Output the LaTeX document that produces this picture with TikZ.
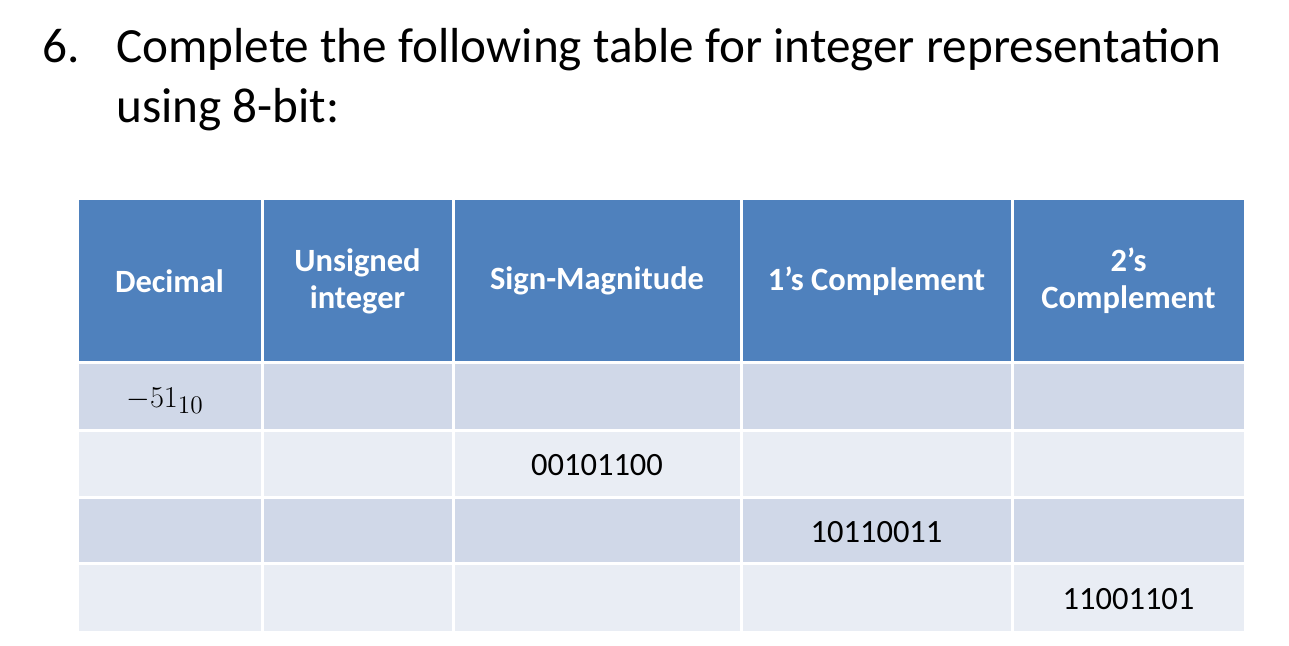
\documentclass[tikz,border=0pt]{standalone}
\usepackage{fontspec}
\setmainfont{Carlito}
\begin{document}
\begin{tikzpicture}[x=0.02cm,y=-0.02cm,
  hdr/.style={fill=hblue,draw=white,line width=0.06cm},
  odd/.style={fill=rodd,draw=white,line width=0.06cm},
  even/.style={fill=reven,draw=white,line width=0.06cm},
  htxt/.style={font=\fontsize{18.5}{21}\selectfont\bfseries,text=white,align=center},
  dtxt/.style={font=\fontsize{18.5}{21}\selectfont},
  title/.style={font=\fontsize{28}{34}\selectfont,anchor=base west}]
\definecolor{hblue}{HTML}{4F81BD}
\definecolor{rodd}{HTML}{D0D8E8}
\definecolor{reven}{HTML}{E9EDF4}
\useasboundingbox (0,0) rectangle (1289,646);
\node[title] (n6) at (36,62) {6.};
\node[title] (t1) at (110,62) {Complete the following table for integer representation};
\node[title] (t2) at (110,122) {using 8-bit:};
\def\cols{77,262,453,741,1012,1245}
\foreach \a/\b [count=\i] in {77/262,262/453,453/741,741/1012,1012/1245}{
  \path[hdr] (\a,198) rectangle (\b,362);
  \path[odd] (\a,362) rectangle (\b,430);
  \path[even] (\a,430) rectangle (\b,497);
  \path[odd] (\a,497) rectangle (\b,563);
  \path[even] (\a,563) rectangle (\b,632);
}
\node[htxt] (h1) at (169.5,281) {Decimal};
\node[htxt] (h2) at (357.5,281) {Unsigned\\integer};
\node[htxt] (h3) at (597,281) {Sign-Magnitude};
\node[htxt] (h4) at (876.5,281) {1’s Complement};
\node[htxt] (h5) at (1128.5,281) {2’s\\Complement};
\node (d1) at (165,401) {\fontsize{19}{22}\selectfont$-51_{10}$};
\node[dtxt] (d2) at (597,465) {00101100};
\node[dtxt] (d3) at (876.5,532) {10110011};
\node[dtxt] (d4) at (1128.5,599) {11001101};
\end{tikzpicture}
\end{document}
